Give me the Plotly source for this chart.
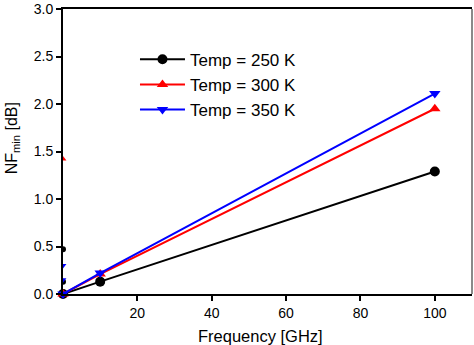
import plotly.graph_objects as go

freq = [0, 10, 100]
nf_250 = [0, 0.13, 1.29]
nf_300 = [0, 0.21, 1.95]
nf_350 = [0, 0.22, 2.11]

# stray markers mostly hidden behind the y axis
stray_x = 0
stray_black_y = [0.47, 0.13]
stray_red_y = [1.42]
stray_blue_y = [0.30, 0.15]

names = ["Temp = 250 K", "Temp = 300 K", "Temp = 350 K"]
colors = ["black", "red", "blue"]
symbols = ["circle", "triangle-up", "triangle-down"]
series = [nf_250, nf_300, nf_350]

fig = go.Figure()
for ys, c, s in zip([stray_black_y, stray_red_y, stray_blue_y], colors, symbols):
    fig.add_trace(go.Scatter(x=[stray_x] * len(ys), y=ys, mode="markers",
                             marker=dict(color=c, symbol=s, size=6),
                             showlegend=False, cliponaxis=True))
for ys, n, c, s in zip(series, names, colors, symbols):
    fig.add_trace(go.Scatter(x=freq, y=ys, name=n, mode="lines+markers",
                             line=dict(color=c, width=2),
                             marker=dict(color=c, symbol=s, size=10),
                             cliponaxis=False))

axis_common = dict(showline=True, linecolor="black", linewidth=2, ticks="outside",
                   ticklen=5, tickwidth=2, tickcolor="black", showgrid=False,
                   zeroline=False, tickfont=dict(size=14, color="black"))

fig.update_layout(
    width=474, height=345,
    margin=dict(l=63, r=2, t=9, b=51),
    plot_bgcolor="white", paper_bgcolor="white",
    font=dict(family="Liberation Sans, Arial, sans-serif", color="black"),
    xaxis=dict(range=[0, 110], tickvals=[20, 40, 60, 80, 100], mirror=True,
               **axis_common),
    yaxis=dict(range=[0, 3.0], tickvals=[0, 0.5, 1.0, 1.5, 2.0, 2.5, 3.0],
               tickformat=".1f", mirror=False, **axis_common),
    legend=dict(x=0.176, y=0.885, xanchor="left", yanchor="top",
                bgcolor="rgba(0,0,0,0)", font=dict(size=17),
                itemwidth=45, tracegroupgap=0),
    showlegend=True,
    shapes=[dict(type="line", xref="paper", yref="paper", x0=1, x1=1, y0=0, y1=1,
                 line=dict(color="#8a8a8a", width=2))],
    annotations=[
        dict(text="Frequency [GHz]", xref="paper", yref="paper", x=0.483, y=-0.108,
             xanchor="center", yanchor="top", showarrow=False, font=dict(size=16.5)),
        dict(text="NF<sub>min</sub> [dB]", xref="paper", yref="paper", x=-0.123, y=0.545,
             xanchor="center", yanchor="middle", textangle=-90, showarrow=False,
             font=dict(size=16)),
    ],
)

fig.write_html("out.html")
